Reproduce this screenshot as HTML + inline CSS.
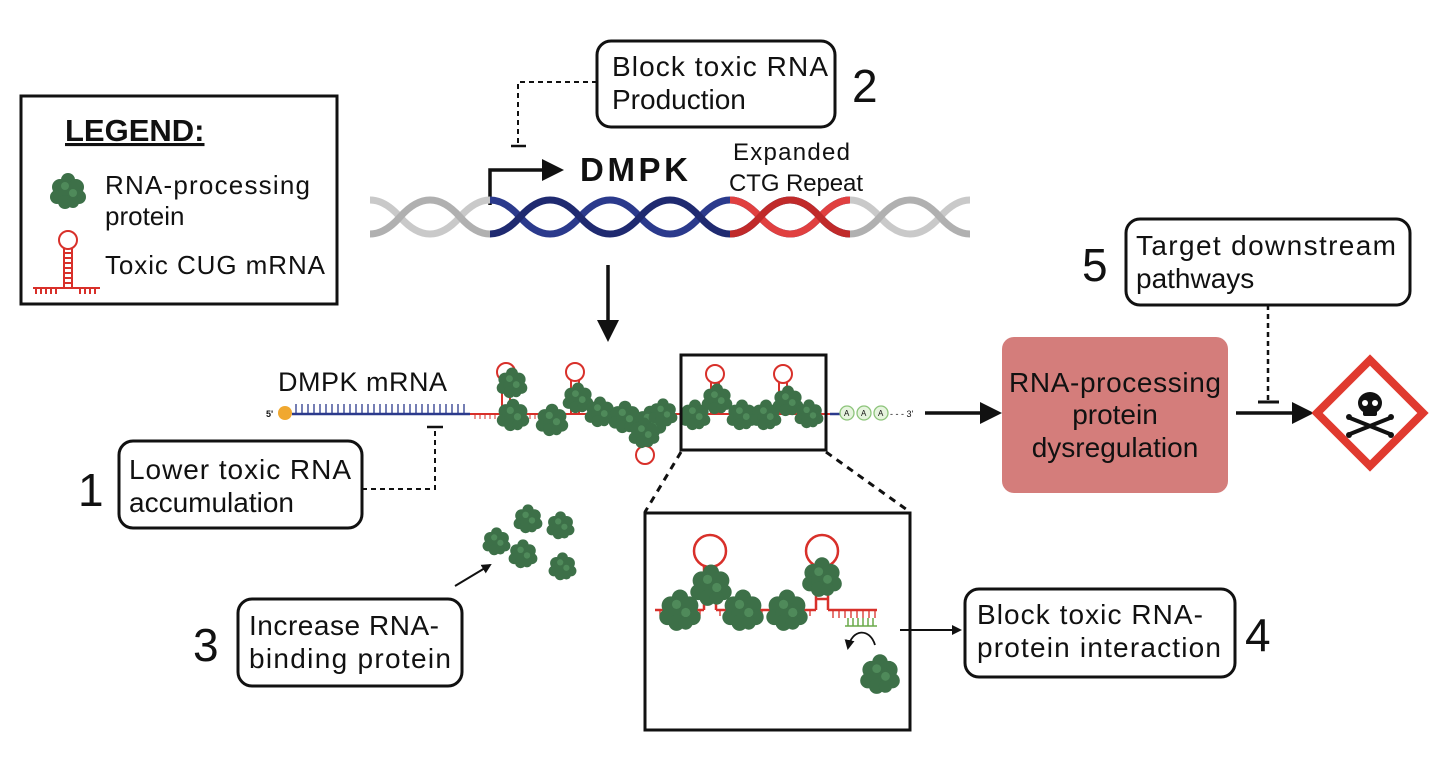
<!DOCTYPE html>
<html><head><meta charset="utf-8"><style>
body{margin:0;background:#fff}
svg{display:block}
text{font-family:"Liberation Sans",sans-serif;fill:#111}
</style></head><body>
<svg width="1436" height="772" viewBox="0 0 1436 772" xmlns="http://www.w3.org/2000/svg">
<defs>
<symbol id="p" viewBox="-20 -20 40 40" overflow="visible">
<g fill="#3d7048">
<circle cx="0" cy="-10" r="7"/><circle cx="-8" cy="-3" r="8"/><circle cx="8" cy="-3" r="8"/>
<circle cx="-11" cy="7" r="7"/><circle cx="11" cy="7" r="7"/><circle cx="0" cy="4" r="10"/><circle cx="-3" cy="12" r="7"/><circle cx="5" cy="12" r="6"/>
</g>
<g fill="#4f8a5a"><circle cx="-3" cy="-4" r="4"/><circle cx="5" cy="3" r="4"/></g>
</symbol>
<marker id="ah" markerWidth="10" markerHeight="10" refX="8" refY="5" orient="auto" markerUnits="userSpaceOnUse"><path d="M0,0 L10,5 L0,10 z" fill="#111"/></marker>
<marker id="ahb" markerWidth="22" markerHeight="22" refX="18" refY="11" orient="auto" markerUnits="userSpaceOnUse"><path d="M0,0 L22,11 L0,22 z" fill="#111"/></marker>
</defs>

<!-- Legend -->
<rect x="21" y="96" width="316" height="208" fill="none" stroke="#111" stroke-width="3"/>
<text x="65" y="141" font-size="31" font-weight="bold" text-decoration="underline">LEGEND:</text>
<use href="#p" x="48" y="170" width="40" height="40"/>
<text x="105" y="194" font-size="26" textLength="205">RNA-processing</text>
<text x="105" y="225" font-size="26">protein</text>
<g stroke="#d8302a" stroke-width="2" fill="none">
<circle cx="68" cy="240" r="9"/>
<line x1="64" y1="248" x2="64" y2="287"/><line x1="72" y1="248" x2="72" y2="287"/>
<path d="M64 253h8M64 258h8M64 263h8M64 268h8M64 273h8M64 278h8M64 283h8"/>
<line x1="33" y1="288" x2="100" y2="288"/>
<path d="M36 288v6M41 288v6M46 288v6M51 288v6M56 288v6M80 288v6M85 288v6M90 288v6M95 288v6"/>
</g>
<text x="105" y="274" font-size="26" textLength="220">Toxic CUG mRNA</text>

<!-- Box 2 -->
<rect x="597" y="41" width="238" height="86" rx="14" fill="#fff" stroke="#111" stroke-width="3"/>
<text x="612" y="76" font-size="28" textLength="216">Block toxic RNA</text>
<text x="612" y="109" font-size="28">Production</text>
<text x="852" y="102" font-size="46">2</text>
<path d="M597 82 H518 V145" fill="none" stroke="#111" stroke-width="2" stroke-dasharray="5,4"/>
<line x1="511" y1="146" x2="526" y2="146" stroke="#111" stroke-width="2.5"/>

<!-- promoter arrow -->
<path d="M490 205 V170 H560" fill="none" stroke="#111" stroke-width="3.5" marker-end="url(#ahb)"/>
<text x="580" y="181" font-size="33" font-weight="bold" textLength="108">DMPK</text>
<text x="733" y="160" font-size="24" textLength="117">Expanded</text>
<text x="729" y="191" font-size="24" textLength="134">CTG Repeat</text>

<!-- DNA helix -->
<g fill="none" stroke-width="7">
<path d="M370 200 q15 0 30 17 t30 17 t30 -17 t30 -17" stroke="#c9c9c9"/>
<path d="M370 234 q15 0 30 -17 t30 -17 t30 17 t30 17" stroke="#b0b0b0"/>
<path d="M490 200 q15 0 30 17 t30 17 t30 -17 t30 -17 t30 17 t30 17 t30 -17 t30 -17 t30 17 t30 17 t30 -17 t30 -17" stroke="#2b3a8c"/>
<path d="M490 234 q15 0 30 -17 t30 -17 t30 17 t30 17 t30 -17 t30 -17 t30 17 t30 17 t30 -17 t30 -17 t30 17 t30 17" stroke="#1f2a70"/>
<path d="M730 200 q15 0 30 17 t30 17 t30 -17 t30 -17" stroke="#e04040"/>
<path d="M730 234 q15 0 30 -17 t30 -17 t30 17 t30 17" stroke="#c02a2a"/>
<path d="M850 200 q15 0 30 17 t30 17 t30 -17 t30 -17" stroke="#c9c9c9"/>
<path d="M850 234 q15 0 30 -17 t30 -17 t30 17 t30 17" stroke="#b0b0b0"/>
</g>

<line x1="608" y1="265" x2="608" y2="338" stroke="#111" stroke-width="3.5" marker-end="url(#ahb)"/>

<!-- mRNA -->
<text x="278" y="391" font-size="27" textLength="169">DMPK mRNA</text>
<text x="266" y="417" font-size="9" font-weight="bold" fill="#333">5'</text>
<circle cx="285" cy="413" r="7" fill="#f0a830"/>
<line x1="292" y1="414" x2="470" y2="414" stroke="#2b3a8c" stroke-width="2.5"/>
<path d="M296 414 V404 M302 414 V404 M308 414 V404 M314 414 V404 M320 414 V404 M326 414 V404 M332 414 V404 M338 414 V404 M344 414 V404 M350 414 V404 M356 414 V404 M362 414 V404 M368 414 V404 M374 414 V404 M380 414 V404 M386 414 V404 M392 414 V404 M398 414 V404 M404 414 V404 M410 414 V404 M416 414 V404 M422 414 V404 M428 414 V404 M434 414 V404 M440 414 V404 M446 414 V404 M452 414 V404 M458 414 V404 M464 414 V404" stroke="#2b3a8c" stroke-width="1.3"/>
<line x1="470" y1="414" x2="830" y2="414" stroke="#d8302a" stroke-width="2"/>
<path d="M475 414v5M480 414v5M485 414v5M490 414v5M495 414v5M530 414v5M535 414v5M565 414v5M595 414v5M620 414v5M660 414v5M675 414v5M800 414v5" stroke="#d8302a" stroke-width="1"/>
<g stroke="#d8302a" stroke-width="2" fill="none">
<path d="M502 380V414M510 380V414M571 380V414M579 380V414M711 383V414M719 383V414M779 383V414M787 383V414M641 414V447M649 414V447"/>
</g>
<line x1="830" y1="414" x2="842" y2="414" stroke="#2b3a8c" stroke-width="2.5"/>
<g fill="#e6f4de" stroke="#8cc47a" stroke-width="1.3">
<circle cx="847" cy="413" r="7"/><circle cx="864" cy="413" r="7"/><circle cx="881" cy="413" r="7"/>
</g>
<text x="844" y="416" font-size="8" fill="#6a9a5a">A</text><text x="861" y="416" font-size="8" fill="#6a9a5a">A</text><text x="878" y="416" font-size="8" fill="#6a9a5a">A</text>
<text x="890" y="417" font-size="9" fill="#333">- - - 3'</text>
<g fill="none" stroke="#d8302a" stroke-width="2">
<circle cx="506" cy="372" r="9"/><circle cx="575" cy="372" r="9"/><circle cx="715" cy="374" r="9"/><circle cx="783" cy="374" r="9"/><circle cx="645" cy="455" r="9"/>
</g>
<g>
<use href="#p" x="495" y="365" width="34" height="34"/>
<use href="#p" x="495" y="396" width="36" height="36"/>
<use href="#p" x="534" y="401" width="36" height="36"/>
<use href="#p" x="561" y="380" width="34" height="34"/>
<use href="#p" x="583" y="394" width="34" height="34"/>
<use href="#p" x="607" y="398" width="36" height="36"/>
<use href="#p" x="632" y="403" width="36" height="36"/>
<use href="#p" x="647" y="396" width="32" height="32"/>
<use href="#p" x="627" y="415" width="34" height="34"/>
<use href="#p" x="678" y="397" width="34" height="34"/>
<use href="#p" x="700" y="381" width="34" height="34"/>
<use href="#p" x="725" y="397" width="34" height="34"/>
<use href="#p" x="749" y="397" width="34" height="34"/>
<use href="#p" x="771" y="383" width="34" height="34"/>
<use href="#p" x="793" y="397" width="32" height="32"/>
</g>
<rect x="681" y="355" width="145" height="95" fill="none" stroke="#111" stroke-width="3"/>
<line x1="681" y1="452" x2="645" y2="512" stroke="#111" stroke-width="3" stroke-dasharray="7,6"/>
<line x1="826" y1="452" x2="910" y2="512" stroke="#111" stroke-width="3" stroke-dasharray="7,6"/>

<!-- box 1 -->
<rect x="119" y="441" width="243" height="87" rx="14" fill="#fff" stroke="#111" stroke-width="3"/>
<text x="129" y="479" font-size="28" textLength="222">Lower toxic RNA</text>
<text x="129" y="512" font-size="28">accumulation</text>
<text x="78" y="506" font-size="46">1</text>
<path d="M362 489 H435 V428" fill="none" stroke="#111" stroke-width="2" stroke-dasharray="5,4"/>
<line x1="427" y1="427" x2="443" y2="427" stroke="#111" stroke-width="2.5"/>

<!-- right side -->
<line x1="925" y1="413" x2="998" y2="413" stroke="#111" stroke-width="3.5" marker-end="url(#ahb)"/>
<rect x="1002" y="337" width="226" height="156" rx="12" fill="#d47d7b"/>
<text x="1115" y="392" font-size="28" text-anchor="middle" textLength="212">RNA-processing</text>
<text x="1115" y="424" font-size="28" text-anchor="middle">protein</text>
<text x="1115" y="457" font-size="28" text-anchor="middle">dysregulation</text>
<rect x="1126" y="219" width="284" height="86" rx="14" fill="#fff" stroke="#111" stroke-width="3"/>
<text x="1136" y="255" font-size="28" textLength="260">Target downstream</text>
<text x="1136" y="288" font-size="28">pathways</text>
<text x="1082" y="281" font-size="46">5</text>
<line x1="1268" y1="305" x2="1268" y2="400" stroke="#111" stroke-width="2.5" stroke-dasharray="5,4"/>
<line x1="1258" y1="402" x2="1279" y2="402" stroke="#111" stroke-width="3"/>
<line x1="1236" y1="413" x2="1310" y2="413" stroke="#111" stroke-width="3.5" marker-end="url(#ahb)"/>
<path d="M1370 360 L1423 413 L1370 466 L1317 413 Z" fill="#fff" stroke="#e03a2f" stroke-width="8" stroke-linejoin="miter"/>
<g fill="#111">
<ellipse cx="1370" cy="403" rx="12" ry="11"/><rect x="1363" y="407" width="14" height="9" rx="2"/>
<path d="M1350 418 L1390 434 M1390 418 L1350 434" stroke="#111" stroke-width="4"/>
<circle cx="1349" cy="417" r="3"/><circle cx="1391" cy="417" r="3"/><circle cx="1349" cy="435" r="3"/><circle cx="1391" cy="435" r="3"/>
</g>
<circle cx="1365" cy="403" r="3" fill="#fff"/><circle cx="1375" cy="403" r="3" fill="#fff"/>

<!-- free proteins -->
<use href="#p" x="512" y="502" width="32" height="32"/>
<use href="#p" x="545" y="509" width="31" height="31"/>
<use href="#p" x="481" y="525" width="31" height="31"/>
<use href="#p" x="507" y="537" width="32" height="32"/>
<use href="#p" x="547" y="550" width="31" height="31"/>
<line x1="455" y1="586" x2="490" y2="565" stroke="#111" stroke-width="2" marker-end="url(#ah)"/>
<rect x="238" y="599" width="224" height="87" rx="14" fill="#fff" stroke="#111" stroke-width="3"/>
<text x="249" y="635" font-size="28" textLength="190">Increase RNA-</text>
<text x="249" y="668" font-size="28" textLength="202">binding protein</text>
<text x="193" y="661" font-size="46">3</text>

<!-- inset -->
<rect x="645" y="513" width="265" height="217" fill="#fff" stroke="#111" stroke-width="3"/>
<g fill="none" stroke="#d8302a" stroke-width="2.5">
<circle cx="710" cy="551" r="16"/><circle cx="822" cy="551" r="16"/>
<path d="M704 565 V610 M716 565 V610 M816 565 V610 M828 565 V610"/>
<path d="M704 585h12M704 592h12M704 599h12M816 585h12M816 592h12M816 599h12"/>
<path d="M655 610 H704 M716 610 H816 M828 610 H877"/>
</g>
<path d="M833 610v8M839 610v8M845 610v8M851 610v8M857 610v8M863 610v8M869 610v8M875 610v8M660 610v6M700 610v6M720 610v6M762 610v6M810 610v6" stroke="#d8302a" stroke-width="1.3"/>
<path d="M845 626h32M848 626v-8M853 626v-8M858 626v-8M863 626v-8M868 626v-8M873 626v-8" stroke="#6aaa4a" stroke-width="1.5"/>
<use href="#p" x="657" y="586" width="46" height="46"/>
<use href="#p" x="688" y="561" width="46" height="46"/>
<use href="#p" x="720" y="586" width="46" height="46"/>
<use href="#p" x="764" y="586" width="46" height="46"/>
<use href="#p" x="800" y="554" width="44" height="44"/>
<use href="#p" x="858" y="651" width="44" height="44"/>
<path d="M875 645 C870 628 852 628 848 648" fill="none" stroke="#111" stroke-width="1.8" marker-end="url(#ah)"/>
<line x1="900" y1="630" x2="960" y2="630" stroke="#111" stroke-width="2" marker-end="url(#ah)"/>
<rect x="965" y="589" width="270" height="88" rx="14" fill="#fff" stroke="#111" stroke-width="3"/>
<text x="977" y="624" font-size="28" textLength="226">Block toxic RNA-</text>
<text x="977" y="657" font-size="28" textLength="244">protein interaction</text>
<text x="1245" y="651" font-size="46">4</text>
</svg>
</body></html>
